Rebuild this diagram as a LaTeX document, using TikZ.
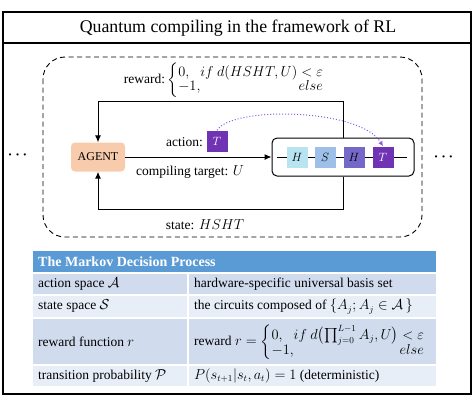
\documentclass[tikz,border=0pt]{standalone}
\usepackage{amsmath}
\usepackage{fontspec}
\setmainfont{Liberation Serif}
\usetikzlibrary{arrows.meta}
\definecolor{hdrblue}{HTML}{5B9BD5}
\definecolor{rowdark}{HTML}{D0DCEE}
\definecolor{rowlight}{HTML}{E8EEF7}
\definecolor{agentfill}{HTML}{F8CBAD}
\definecolor{gH}{HTML}{B7E4F0}
\definecolor{gS}{HTML}{9DBFE8}
\definecolor{gHb}{HTML}{7469C9}
\definecolor{gT}{HTML}{7033B3}
\definecolor{dotarrow}{HTML}{8A5CE0}
\tikzset{
  lbl/.style={font=\fontsize{13.5}{15}\selectfont, inner sep=1pt},
  cell/.style={font=\fontsize{13.5}{15}\selectfont, inner sep=0pt, anchor=west},
  gatebox/.style={minimum width=21pt, minimum height=21pt, inner sep=0pt, font=\fontsize{13}{14}\selectfont},
  arr/.style={line width=1pt, -{Latex[length=7pt,width=6pt]}},
  dotsnode/.style={font=\fontsize{15}{15}\selectfont\boldmath, inner sep=0pt}
}
\begin{document}
\begin{tikzpicture}[x=1pt,y=-1pt]
\useasboundingbox (0,0) rectangle (474,416);
% outer frame
\draw[line width=1.3pt] (3,12) rectangle (471,394);
\draw[line width=1.1pt] (3,43) -- (471,43);
\node[font=\fontsize{17.8}{20}\selectfont, inner sep=0pt] (title) at (238,28) {Quantum compiling in the framework of RL};
% dashed box
\draw[dash pattern=on 5pt off 3.5pt, line width=0.9pt, rounded corners=22pt] (43,57) rectangle (422,237);
% dots
\node[dotsnode] (ldots) at (19,155) {$\cdots$};
\node[dotsnode] (rdots) at (445,157) {$\cdots$};
% agent and circuit
\node[fill=agentfill, rounded corners=4pt, minimum width=54pt, minimum height=29pt, inner sep=0pt, font=\fontsize{12}{14}\selectfont] (agent) at (98,157) {AGENT};
\node[draw, line width=1pt, rounded corners=5pt, minimum width=142pt, minimum height=38pt, inner sep=0pt] (cbox) at (343,157) {};
\coordinate (w1) at (277,157);
\coordinate (w2) at (407,157);
\draw[line width=1pt] (w1) -- (w2);
\node[gatebox, fill=gH] (g1) at (297,157) {$H$};
\node[gatebox, fill=gS] (g2) at (325,157) {$S$};
\node[gatebox, fill=gHb] (g3) at (354,157) {$H$};
\node[gatebox, fill=gT, text=white] (g4) at (383,157) {$T$};
% loop
\coordinate (topy) at (0,101);
\coordinate (boty) at (0,209);
\draw[arr] (cbox.north) -- (cbox.north |- topy) -| (agent.north);
\draw[arr] (cbox.south) -- (cbox.south |- boty) -| (agent.south);
\draw[arr] (agent.east) -- (cbox.west);
% action
\node[gatebox, fill=gT, text=white] (act) at (217,141) {$T$};
\node[lbl, anchor=east] (actlbl) at (204,142) {action:};
\draw[dotarrow, dotted, line width=1pt, -{Latex[length=5pt,width=5pt]}] (act.north) .. controls (232,106) and (360,108) .. (g4.north);
\node[lbl] (ctlbl) at (190,172) {compiling target: $U$};
\node[lbl] (stlbl) at (205,225) {state: $HSHT$};
\node[lbl] (rwlbl) at (224,80) {reward:$\,\renewcommand{\arraystretch}{0.9}\left\{\begin{array}{@{}l@{}r@{}}0,\ & if\ d(HSHT,U)<\varepsilon\\ -1, & else\end{array}\right.$};
% table
\fill[hdrblue] (33,251) rectangle (436,272);
\fill[rowdark] (33,274) rectangle (436,294);
\fill[rowlight] (33,296) rectangle (436,317);
\fill[rowdark] (33,319) rectangle (436,364);
\fill[rowlight] (33,366) rectangle (436,386);
\draw[white, line width=2pt] (188,272) -- (188,386);
\node[cell, text=white, font=\fontsize{14}{15}\selectfont\bfseries] (hdr) at (38,262) {The Markov Decision Process};
\node[cell] (c11) at (38,284) {action space $\mathcal{A}$};
\node[cell] (c12) at (194,284) {hardware-specific universal basis set};
\node[cell] (c21) at (38,306.5) {state space $\mathcal{S}$};
\node[cell] (c22) at (194,306.5) {the circuits composed of $\{A_j; A_j\in\mathcal{A}\,\}$};
\node[cell] (c31) at (38,341.5) {reward function $r$};
\node[cell] (c32) at (194,342) {reward $r=\renewcommand{\arraystretch}{0.85}\biggl\{\begin{array}{@{}l@{}r@{}}0,\ & if\ d\bigl(\textstyle\prod_{j=0}^{L-1}A_j,U\bigr)<\varepsilon\\ -1, & else\end{array}$};
\node[cell] (c41) at (38,376) {transition probability $\mathcal{P}$};
\node[cell] (c42) at (194,376) {$P(s_{t+1}|s_t,a_t)=1$ (deterministic)};
\end{tikzpicture}
\end{document}
